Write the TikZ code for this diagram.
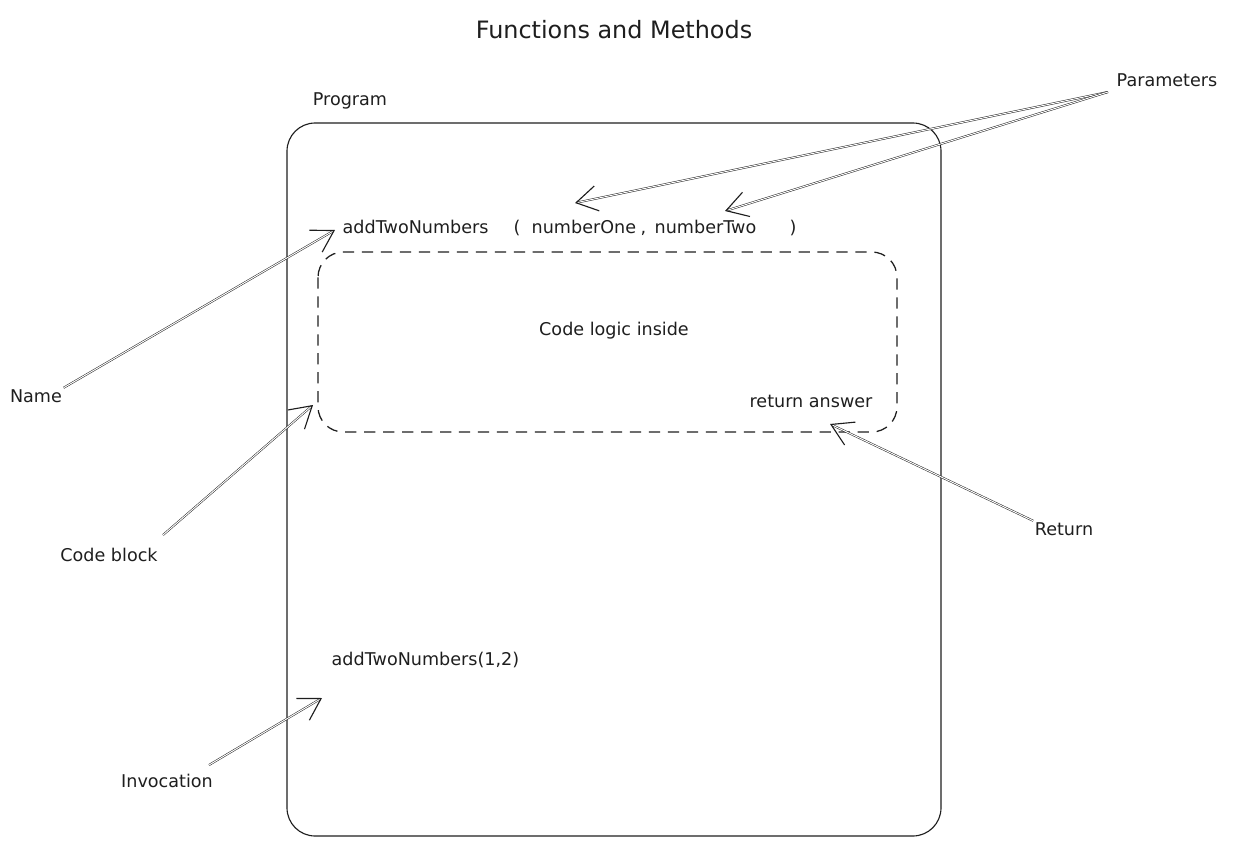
\documentclass[tikz,border=0pt]{standalone}
\usepackage{fontspec}
\setmainfont{DejaVu Sans}
\usetikzlibrary{arrows.meta}
\definecolor{ink}{HTML}{1E1E1E}
\begin{document}
\begin{tikzpicture}[x=0.025cm,y=-0.025cm,
    txt/.style={inner sep=1pt,text=ink,font=\fontsize{12.5}{15}\selectfont},
    sig/.style={txt,anchor=base west},
    ptr/.style={draw=ink,double=white,double distance=0.7pt,line width=0.35pt,
      -{Straight Barb[length=15pt,width=18pt,line width=0.8pt]}}]
    \useasboundingbox (0,0) rectangle (1235,847);
    %TITLE
    \node[txt,font=\fontsize{17}{20}\selectfont] (title) at (614,30) {Functions and Methods};
    %PROGRAM BOX
    \node[txt] (prog) at (350,101) {Program};
    \draw[ink,line width=0.8pt,rounded corners=20pt] (287,123) rectangle (941,836);
    %CODE BLOCK (DASHED)
    \draw[ink,line width=0.9pt,dash pattern=on 8pt off 5.5pt,rounded corners=18pt] (318,252) rectangle (897,432);
    % SIGNATURE , BASELINE AT 233
    \node[sig] (fname) at (341,233) {addTwoNumbers};
    \node[sig] (lpar) at (512,233) {(};
    \node[sig] (argOne) at (530,233) {numberOne};
    \node[sig] (comma) at (639,233) {,};
    \node[sig] (argTwo) at (653,233) {numberTwo};
    \node[sig] (rpar) at (788,233) {)};
    \node[txt] (logic) at (614,331) {Code logic inside};
    \node[txt] (ret) at (811,401) {return answer};
    \node[txt,anchor=base west] (call) at (330,665) {addTwoNumbers(1,2)};
    %LABELS OUTSIDE
    \node[txt] (lblName) at (36,396) {Name};
    \node[txt] (lblBlock) at (109,555) {Code block};
    \node[txt] (lblCall) at (167,781) {Invocation};
    \node[txt] (lblRet) at (1064,529) {Return};
    \node[txt] (lblParam) at (1167,80) {Parameters};
    %ARROW ENDS
    \coordinate (tipName) at (335,230);
    \coordinate (tipBlock) at (313,405);
    \coordinate (tipCall) at (322,698);
    \coordinate (tipRet) at (830,424);
    \coordinate (tipOne) at (575,203);
    \coordinate (tipTwo) at (725,211);
    \coordinate (srcParam) at (1108,92);
    \coordinate (srcCall) at (209,765);
    \coordinate (srcBlock) at (163,535);
    % ARROWS
    \draw[ptr] (lblName.north east) -- (tipName);
    \draw[ptr] (srcBlock) -- (tipBlock);
    \draw[ptr] (srcCall) -- (tipCall);
    \draw[ptr] (lblRet.north west) -- (tipRet);
    \draw[ptr] (srcParam) -- (tipOne);
    \draw[ptr] (srcParam) -- (tipTwo);
\end{tikzpicture}
\end{document}
